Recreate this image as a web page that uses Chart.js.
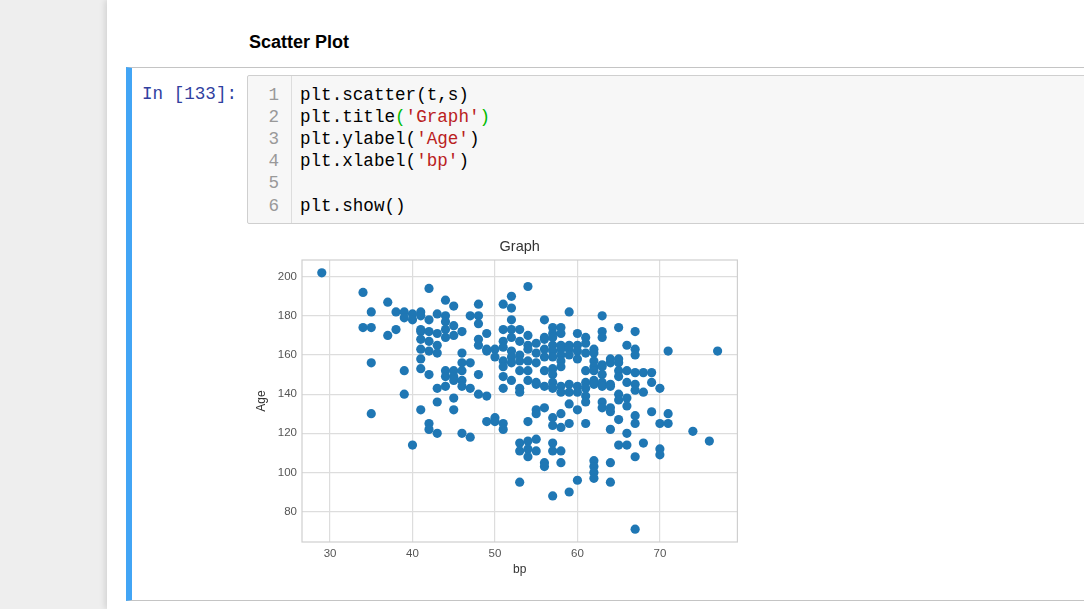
<!DOCTYPE html>
<html>
<head>
<meta charset="utf-8">
<script src="https://cdn.jsdelivr.net/npm/chart.js@4/dist/chart.umd.min.js"></script>
<style>
  html, body { margin: 0; padding: 0; background: #fff; width: 1084px; height: 609px; overflow: hidden; }
  .side { position: absolute; left: 0; top: 0; width: 107px; height: 609px; background: #eeeeee; }
  .page { position: absolute; left: 107px; top: 0; width: 1000px; height: 609px; background: #fff;
          box-shadow: -2px 0 6px rgba(0,0,0,0.12); }
  .heading { position: absolute; left: 249px; top: 32px; margin: 0; font: bold 18px "Liberation Sans", Arial, sans-serif;
             line-height: 20px; color: #000; }
  .cell { position: absolute; left: 126px; top: 67px; width: 1000px; height: 532px;
          border-top: 1px solid #c4c4c4; border-bottom: 1px solid #c4c4c4; border-left: 6px solid #42a5f5; }
  .mono { font-family: "Liberation Mono", "Courier New", monospace; font-size: 17.6px; }
  .prompt { position: absolute; left: 142px; top: 83px; line-height: 22px; color: #303f9f; white-space: pre; }
  .code { position: absolute; left: 247px; top: 75px; width: 900px; height: 147px;
          background: #f7f7f7; border: 1px solid #cfcfcf; border-radius: 2px; }
  .gutter { position: absolute; left: 0; top: 0; width: 43px; height: 147px; border-right: 1px solid #dddddd; }
  .num { position: absolute; right: 12px; color: #999; line-height: 22.2px; }
  .lines { position: absolute; left: 52px; top: 7.5px; line-height: 22.2px; color: #000; white-space: pre; }
  .str { color: #ba2121; }
  .mb { color: #00bb00; }
  .out { position: absolute; left: 250px; top: 236px; width: 492px; height: 348px; }
</style>
</head>
<body>
<div class="side"></div>
<div class="page"></div>
<h3 class="heading">Scatter Plot</h3>
<div class="cell"></div>
<div class="prompt mono">In [133]:</div>
<div class="code">
  <div class="gutter mono">
    <div class="num" style="top:7.5px">1</div>
    <div class="num" style="top:29.7px">2</div>
    <div class="num" style="top:51.9px">3</div>
    <div class="num" style="top:74.1px">4</div>
    <div class="num" style="top:96.3px">5</div>
    <div class="num" style="top:118.5px">6</div>
  </div>
  <div class="lines mono">plt.scatter(t,s)
plt.title<span class="mb">(</span><span class="str">'Graph'</span><span class="mb">)</span>
plt.ylabel(<span class="str">'Age'</span>)
plt.xlabel(<span class="str">'bp'</span>)

plt.show()</div>
</div>
<div class="out"><canvas id="chart"></canvas></div>

<script>
// x values (bp column) and the y values seen above each of them
const bp = [29, 34, 35, 37, 38, 39, 40, 41, 42, 43, 44, 45, 46, 47, 48, 49, 50, 51, 52, 53,
            54, 55, 56, 57, 58, 59, 60, 61, 62, 63, 64, 65, 66, 67, 68, 69, 70, 71, 74, 76, 77];
const age = [
  [202],
  [192, 174],
  [182, 174, 156, 130],
  [187, 170],
  [182, 173],
  [182, 179, 152, 140],
  [181, 178, 114],
  [182, 180, 173, 172, 168, 163, 158, 153, 132],
  [194, 178, 172, 167, 162, 150, 125, 122],
  [181, 171, 165, 161, 143, 136, 120],
  [188, 180, 177, 173, 169, 152, 149, 144],
  [185, 175, 170, 152, 149, 147, 138, 132],
  [172, 161, 156, 152, 147, 144, 120],
  [180, 156, 143, 118],
  [186, 180, 176, 168, 165, 150, 140],
  [171, 163, 162, 139, 126],
  [163, 159, 128, 126],
  [186, 173, 167, 164, 157, 154, 149, 143, 125, 122],
  [190, 184, 178, 173, 169, 162, 159, 156, 147],
  [173, 167, 160, 157, 152, 143, 141, 115, 111, 95],
  [195, 170, 165, 163, 157, 152, 147, 126, 116, 112, 108],
  [166, 161, 156, 146, 145, 132, 130, 117, 111],
  [178, 169, 168, 163, 159, 152, 144, 133, 105, 103],
  [174, 171, 169, 165, 162, 159, 153, 150, 146, 143, 128, 124, 115, 111, 88],
  [174, 171, 165, 163, 160, 157, 154, 144, 141, 130, 123, 111, 105],
  [182, 165, 163, 160, 145, 141, 135, 125, 90],
  [171, 165, 162, 158, 144, 141, 132, 96],
  [169, 166, 161, 152, 146, 143, 139, 136, 125],
  [163, 161, 157, 154, 152, 147, 145, 106, 103, 100, 97],
  [180, 172, 169, 155, 154, 150, 146, 144, 136, 133],
  [158, 156, 145, 144, 133, 131, 122, 105, 95],
  [174, 158, 156, 152, 149, 140, 137, 127, 114],
  [165, 152, 146, 138, 134, 120, 114],
  [172, 163, 160, 151, 145, 142, 129, 125, 108, 71],
  [151, 141, 115],
  [151, 146, 131],
  [143, 125, 112, 109],
  [162, 130, 125],
  [121],
  [116],
  [162]
];
const xTicks = [30, 40, 50, 60, 70];
const yTicks = [80, 100, 120, 140, 160, 180, 200];

const points = [];
bp.forEach((x, i) => {
    age[i].forEach(y => points.push({ x: x, y: y }));
});

// matplotlib style axes frame
const frame = {
    id: 'frame',
    beforeDatasetsDraw(chart) {
        const a = chart.chartArea;
        const ctx = chart.ctx;
        ctx.save();
        ctx.strokeStyle = '#cfcfcf';
        ctx.lineWidth = 1.2;
        ctx.strokeRect(a.left, a.top, a.right - a.left, a.bottom - a.top);
        ctx.restore();
    }
};

const fam = '"Liberation Sans", Arial, sans-serif';
const tickFont = { family: fam, size: 11.5 };
const labelFont = { family: fam, size: 12 };

new Chart(document.getElementById('chart'), {
    type: 'scatter',
    data: {
        datasets: [{
            data: points,
            backgroundColor: '#1f77b4',
            borderWidth: 0,
            pointRadius: 4.6,
            pointHoverRadius: 4.6
        }]
    },
    options: {
        responsive: true,
        maintainAspectRatio: false,
        animation: false,
        events: [],
        layout: { padding: { right: 4 } },
        plugins: {
            legend: { display: false },
            tooltip: { enabled: false },
            title: {
                display: true,
                fullSize: false,
                text: 'Graph',
                color: '#333',
                font: { family: fam, size: 14.5, weight: 'normal' },
                padding: { top: 2, bottom: 4.6 }
            }
        },
        scales: {
            x: {
                type: 'linear',
                min: 26.6,
                max: 79.4,
                afterBuildTicks: s => { s.ticks = xTicks.map(v => ({ value: v })); },
                afterFit: s => { s.height = 42; },
                grid: { color: '#dddddd', lineWidth: 1.2, drawTicks: false },
                border: { display: false },
                ticks: { padding: 5, color: '#555', font: tickFont, maxRotation: 0 },
                title: { display: true, text: 'bp', color: '#333', font: labelFont, padding: { top: 0, bottom: 6.8 } }
            },
            y: {
                type: 'linear',
                min: 64.45,
                max: 208.55,
                afterBuildTicks: s => { s.ticks = yTicks.map(v => ({ value: v })); },
                afterFit: s => { s.width = 52; },
                grid: { color: '#dddddd', lineWidth: 1.2, drawTicks: false },
                border: { display: false },
                ticks: { padding: 5, color: '#555', font: tickFont },
                title: { display: true, text: 'Age', color: '#333', font: labelFont, padding: { top: 4.8, bottom: 0 } }
            }
        }
    },
    plugins: [frame]
});
</script>
</body>
</html>
